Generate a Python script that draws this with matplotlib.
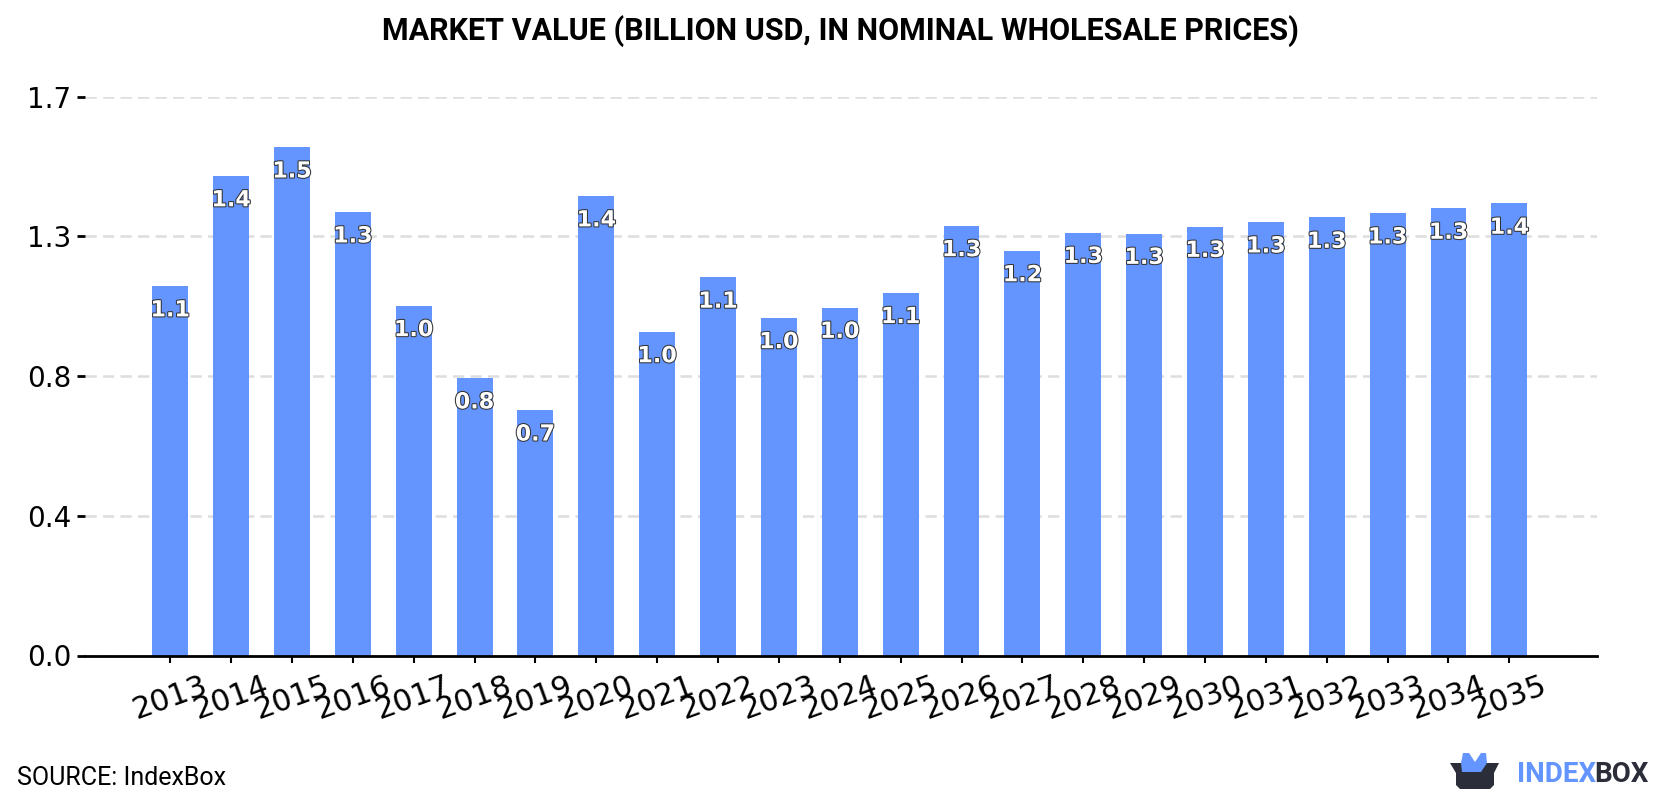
import numpy as np
import matplotlib.pyplot as plt
import matplotlib.patheffects as pe
from matplotlib.patches import Polygon

years = [2013, 2014, 2015, 2016, 2017, 2018, 2019, 2020, 2021, 2022, 2023, 2024,
         2025, 2026, 2027, 2028, 2029, 2030, 2031, 2032, 2033, 2034, 2035]
market_value = [1.104, 1.433, 1.519, 1.325, 1.045, 0.829, 0.733, 1.373, 0.967, 1.130, 1.009, 1.040,
                1.084, 1.284, 1.209, 1.264, 1.261, 1.282, 1.295, 1.309, 1.322, 1.336, 1.351]
y_ticks = [0.0, 0.4175, 0.835, 1.2525, 1.67]

BLUE = "#6495ff"
DARK = "#2b2d38"

fig = plt.figure(figsize=(16.8, 8), dpi=100)
ax = fig.add_axes([85 / 1680, 1 - 655.5 / 800, 1512 / 1680, 558.8 / 800])

# bars with value labels just under the top edge
x = np.arange(len(years))
ax.bar(x, market_value, width=0.59, color=BLUE, zorder=2)
for xi, v in zip(x, market_value):
    ax.annotate(f"{v:.1f}", (xi, v), xytext=(0, -17.5), textcoords="offset points",
                ha="center", va="center", fontsize=16, fontweight="bold", color="white", zorder=3,
                path_effects=[pe.withStroke(linewidth=1.5, foreground="#333333")])

ax.set_xlim(-1.40, 23.44)
ax.set_ylim(0, 1.67)
ax.set_xticks(x)
ax.set_xticklabels(years, rotation=20, ha="center", fontsize=22)
ax.set_yticks(y_ticks)
ax.set_yticklabels([f"{t:.1f}" for t in y_ticks], fontsize=20)
ax.tick_params(axis="x", length=5, width=1.5, pad=6)
ax.tick_params(axis="y", length=5.8, width=2, pad=4)

ax.yaxis.grid(True, color="#dddddd", linestyle=(0, (4.5, 2.5)), linewidth=1.8, zorder=1)
ax.set_axisbelow(True)
for side in ["top", "left", "right"]:
    ax.spines[side].set_visible(False)
ax.spines["bottom"].set_linewidth(2)

fig.text(840 / 1680, 1 - 31 / 800, "MARKET VALUE (BILLION USD, IN NOMINAL WHOLESALE PRICES)",
         ha="center", va="center", family="Roboto", fontweight="bold", fontsize=22)
fig.text(17 / 1680, 1 - 785 / 800, "SOURCE: IndexBox", ha="left", va="baseline",
         family="Roboto", fontsize=18)

# logo drawn on a full-figure overlay in pixel units
logo = fig.add_axes([0, 0, 1, 1], facecolor="none")
logo.set_xlim(0, 1680)
logo.set_ylim(800, 0)
logo.axis("off")
logo.add_patch(Polygon([(1461, 763), (1463, 753), (1469, 753), (1475, 762), (1481, 753), (1486, 753),
                        (1487, 763), (1481, 772), (1462, 772)], color=BLUE, lw=0))
logo.add_patch(Polygon([(1450, 763), (1499, 763), (1494, 773), (1494, 785), (1490, 789), (1460, 789),
                        (1456, 785), (1456, 773)], color=DARK, lw=0))
logo.add_patch(Polygon([(1461, 763), (1487, 763), (1481, 772), (1462, 772)], color=BLUE, lw=0))
logo.text(1517, 782, "INDEX", color=BLUE, family="Roboto", fontweight="bold", fontsize=20,
          ha="left", va="baseline")
logo.text(1649, 782, "BOX", color=DARK, family="Roboto", fontweight="bold", fontsize=20,
          ha="right", va="baseline")

fig.savefig("out.png", dpi=100)
